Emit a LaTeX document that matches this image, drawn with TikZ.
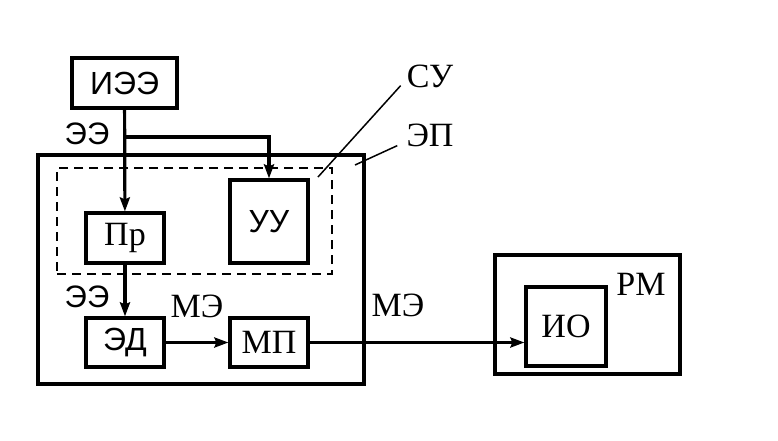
\documentclass[tikz,border=0pt]{standalone}
\usepackage{fontspec}
\setmainfont{Liberation Serif}
\newfontfamily\blocksans{Liberation Sans}
\usetikzlibrary{arrows.meta,positioning}
\tikzset{>={Stealth[length=14pt,width=10pt,inset=2pt]},
  block/.style={draw,line width=3.2pt,inner sep=0pt,
    font=\fontsize{34}{34}\selectfont},
  sblock/.style={block,font=\blocksans\fontsize{32}{32}\selectfont},
  frame/.style={draw,line width=3.2pt,inner sep=0pt},
  label/.style={inner sep=0pt,font=\fontsize{34}{34}\selectfont},
  slabel/.style={inner sep=0pt,font=\blocksans\fontsize{31}{31}\selectfont},
  flow/.style={->,line width=3.2pt},
  leader/.style={line width=1.5pt}}

\begin{document}
\begin{tikzpicture}[x=1pt,y=-1pt]
  \useasboundingbox (0,0) rectangle (778,440);
  % frames
  \node [frame, minimum width=326pt, minimum height=229pt] (ep) at (201,269.5) {};
  \node [draw, line width=1.4pt, dash pattern=on 9pt off 6pt,
    minimum width=275pt, minimum height=106pt] (su) at (194.5,221) {};
  \node [frame, minimum width=185pt, minimum height=119pt] (rm) at (587.5,314.5) {};
  % blocks
  \node [sblock, minimum width=105pt, minimum height=50pt] (iee) at (124.5,83) {ИЭЭ};
  \node [block, minimum width=78pt, minimum height=50pt] (pr) at (125,238) {Пр};
  \node [sblock, minimum width=78pt, minimum height=83pt] (uu) at (269,221.5) {УУ};
  \node [sblock, minimum width=78pt, minimum height=49pt] (ed) at (125,342.5) {ЭД};
  \node [block, minimum width=78pt, minimum height=49pt] (mp) at (269,342.5) {МП};
  \node [block, minimum width=80pt, minimum height=79pt] (io) at (566,326.5) {ИО};
  % labels
  \node [slabel] (ee top) at (87,134) {ЭЭ};
  \node [slabel] (ee low) at (87,297) {ЭЭ};
  \node [label] (me mid) at (197,306) {МЭ};
  \node [label] (me out) at (398,305) {МЭ};
  \node [label] (rm lbl) at (641,284) {РМ};
  \node [label] (su lbl) at (430,76) {СУ};
  \node [label] (ep lbl) at (430,135) {ЭП};
  \coordinate (branch) at (125,137);
  \coordinate (su tip) at (318,177);
  \coordinate (ep tip) at (355,165);
  % connectors
  \draw [flow] (iee) -- (pr);
  \draw [flow] (branch) -| (uu.north);
  \draw [flow] (pr) -- (ed);
  \draw [flow] (ed) -- (mp);
  \draw [flow] (mp.east) -- (mp.east -| io.west);
  \draw [leader] ([xshift=-6pt,yshift=2pt]su lbl.south west) -- (su tip);
  \draw [leader] ([xshift=-9pt,yshift=1pt]ep lbl.south west) -- (ep tip);
\end{tikzpicture}
\end{document}
